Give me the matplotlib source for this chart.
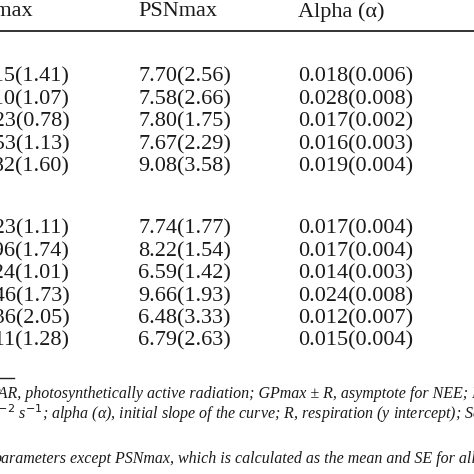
import matplotlib
matplotlib.use("Agg")
import matplotlib.pyplot as plt
from matplotlib.lines import Line2D

headers = ["GPmax", "PSNmax", "Alpha (α)"]
gpmax = ["5.15(1.41)", "5.10(1.07)", "5.23(0.78)", "5.53(1.13)", "5.82(1.60)",
         "5.23(1.11)", "5.96(1.74)", "5.24(1.01)", "6.46(1.73)", "5.36(2.05)", "5.11(1.28)"]
psnmax = ["7.70(2.56)", "7.58(2.66)", "7.80(1.75)", "7.67(2.29)", "9.08(3.58)",
          "7.74(1.77)", "8.22(1.54)", "6.59(1.42)", "9.66(1.93)", "6.48(3.33)", "6.79(2.63)"]
alpha = ["0.018(0.006)", "0.028(0.008)", "0.017(0.002)", "0.016(0.003)", "0.019(0.004)",
         "0.017(0.004)", "0.017(0.004)", "0.014(0.003)", "0.024(0.008)", "0.012(0.007)", "0.015(0.004)"]
row_y = [77, 100, 122, 145, 167, 229, 252, 274, 297, 319, 341]
notes = ["PAR, photosynthetically active radiation; GPmax ± R, asymptote for NEE; PSNmax",
         "m$^{-2}$ s$^{-1}$; alpha (α), initial slope of the curve; R, respiration (y intercept); See also",
         "parameters except PSNmax, which is calculated as the mean and SE for all models"]

W = H = 474
fig = plt.figure(figsize=(4.74, 4.74), dpi=100)
fig.patch.set_facecolor("white")
def T(x, y, s, **kw):
    fig.text(x / W, 1 - y / H, s, va="center", family="Liberation Serif", color="#1a1a1a", **kw)

T(33, 12, headers[0], fontsize=16, ha="right")
T(138, 12, headers[1], fontsize=16)
T(298, 12, headers[2], fontsize=16)
fig.add_artist(Line2D([0, 1], [1 - 31 / H] * 2, color="#222", lw=1.3))
for y, a, b, c in zip(row_y, gpmax, psnmax, alpha):
    T(70, y, a, fontsize=16, ha="right")
    T(138, y, b, fontsize=16)
    T(298, y, c, fontsize=16)
fig.add_artist(Line2D([0, 14 / W], [1 - 378 / H] * 2, color="#222", lw=1))
T(-10, 394, notes[0], fontsize=11.5, style="italic")
T(-14, 414, notes[1], fontsize=11.5, style="italic")
T(-6, 459, notes[2], fontsize=11.5, style="italic")
fig.savefig("out.png", dpi=100)
